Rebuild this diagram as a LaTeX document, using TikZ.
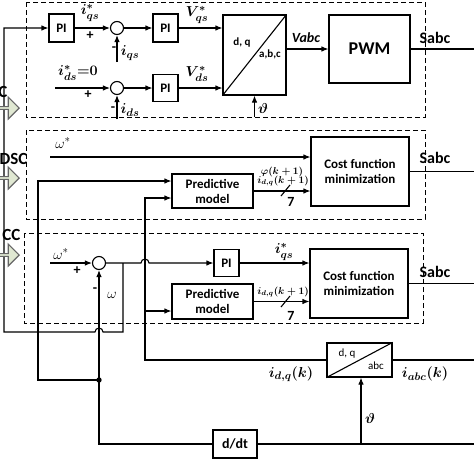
\documentclass[tikz,border=0pt]{standalone}
\usepackage{amsmath}
\usepackage{fontspec}
\setmainfont{Carlito}
\usetikzlibrary{arrows,arrows.meta,shapes,positioning,calc}
\definecolor{modefill}{RGB}{224,232,210}

\begin{document}
\begin{tikzpicture}[x=1pt,y=-1pt,>={Latex[length=7pt,width=5.5pt]},line width=1.1pt,
		blk/.style={draw,align=center,inner sep=0pt,font=\bfseries\fontsize{13}{15}\selectfont},
		sumnode/.style={draw,circle,minimum size=13pt,inner sep=0pt},
		zone/.style={draw,line width=0.9pt,dash pattern=on 5pt off 3pt},
		lbl/.style={inner sep=0pt,font=\fontsize{15}{15}\selectfont},
		smalllbl/.style={inner sep=0pt,font=\fontsize{10}{10}\selectfont},
		signlbl/.style={inner sep=0pt,font=\bfseries\fontsize{14}{14}\selectfont},
		outlbl/.style={inner sep=0pt,font=\bfseries\fontsize{16}{16}\selectfont},
		modearrow/.style={single arrow,draw=black!60,fill=modefill,line width=1.1pt,
			minimum width=22pt,minimum height=34pt,single arrow head extend=4pt,inner sep=0pt,anchor=tip},
		modelbl/.style={inner sep=0pt,anchor=east,font=\bfseries\fontsize{17}{17}\selectfont}]
	\useasboundingbox (0,0) rectangle (474,474);
	\clip (0,0) rectangle (474,474);
	%% zones
	\draw[zone] (26,2) rectangle (425,117);
	\draw[zone] (26,130) rectangle (425,219);
	\draw[zone] (24,233) rectangle (423,323);
	%% FOC
	\node[blk,minimum width=25pt,minimum height=28pt] (pi1) at (61.5,28) {PI};
	\node[sumnode] (sum1) at (117,28) {};
	\node[blk,minimum width=25pt,minimum height=28pt] (pi2) at (165.5,28) {PI};
	\node[sumnode] (sum2) at (117,88) {};
	\node[blk,minimum width=25pt,minimum height=27pt] (pi3) at (165.5,88) {PI};
	\node[blk,minimum width=63pt,minimum height=80pt] (dq1) at (254.5,55) {};
	\node[blk,minimum width=81pt,minimum height=68pt,font=\bfseries\fontsize{18}{18}\selectfont] (pwm) at (369.5,49) {PWM};
	\coordinate (iqs) at (117,62);
	\coordinate (ids) at (117,119);
	\coordinate (ids0) at (55,88);
	\coordinate (th1) at (254.5,117);
	\coordinate (s1) at (474,49);
	\draw (dq1.south west) -- (dq1.north east);
	\node[font=\bfseries\fontsize{11}{11}\selectfont] at (242,43) {d, q};
	\node[font=\bfseries\fontsize{11}{11}\selectfont] at (270,54) {a,b,c};
	\draw[->] (pi1) -- (sum1);
	\draw[->] (sum1) -- (pi2);
	\draw[->] (pi2.east) -- (pi2.east -| dq1.west);
	\draw[->] (ids0) -- (sum2);
	\draw[->] (sum2) -- (pi3);
	\draw[->] (pi3.east) -- (pi3.east -| dq1.west);
	\draw[->] (iqs) -- (sum1);
	\draw[->] (ids) -- (sum2);
	\draw[->] (th1) -- (dq1.south -| th1);
	\draw[->] (pwm.west -| dq1.east) -- (pwm.west);
	\draw (pwm.east) -- (s1);
	\node[lbl] at (90,13) {$\boldsymbol{i^*_{qs}}$};
	\node[signlbl] at (90,36) {+};
	\node[signlbl] at (114,49) {-};
	\node[lbl] at (130,53) {$\boldsymbol{i_{qs}}$};
	\node[lbl] at (197,15) {$\boldsymbol{V^*_{qs}}$};
	\node[lbl] at (78,73) {$\boldsymbol{i^*_{ds}{=}0}$};
	\node[signlbl] at (88,95) {+};
	\node[signlbl] at (113,109) {-};
	\node[lbl] at (130,110) {$\boldsymbol{i_{ds}}$};
	\node[lbl] at (197,74) {$\boldsymbol{V^*_{ds}}$};
	\node[lbl] at (263,108) {$\boldsymbol{\vartheta}$};
	\node[lbl,font=\bfseries\itshape\fontsize{14}{14}\selectfont] at (306,38) {Vabc};
	\node[outlbl] at (435,38) {Sabc};
	%% DSC
	\node[blk,minimum width=98pt,minimum height=69pt] (cost1) at (360,171.5) {Cost function\\minimization};
	\node[blk,minimum width=81pt,minimum height=34pt] (pred1) at (212.5,191) {Predictive\\model};
	\coordinate (w1) at (50,157);
	\coordinate (s2) at (474,171.5);
	\draw[->] (w1) -- (w1 -| cost1.west);
	\draw[->] (pred1.east) -- (pred1.east -| cost1.west);
	\draw (281,196) -- (290,185);
	\draw (cost1.east) -- (s2);
	\node[lbl] at (63,143) {$\omega^*$};
	\node[smalllbl] at (282,172) {$\boldsymbol{\varphi(k+1)}$};
	\node[smalllbl] at (283,181) {$\boldsymbol{i_{d,q}(k+1)}$};
	\node[lbl,font=\bfseries\fontsize{14}{14}\selectfont] at (291,202) {7};
	\node[outlbl] at (435,158) {Sabc};
	%% CC
	\node[sumnode] (sum3) at (99,263) {};
	\node[blk,minimum width=25pt,minimum height=27pt] (pi4) at (226.5,263) {PI};
	\node[blk,minimum width=98pt,minimum height=69pt] (cost2) at (359,283.5) {Cost function\\minimization};
	\node[blk,minimum width=81pt,minimum height=35pt] (pred2) at (212.5,301.5) {Predictive\\model};
	\coordinate (w2) at (50,263);
	\coordinate (s3) at (474,283.5);
	\draw[->] (w2) -- (sum3);
	\draw[->] (sum3.east) -- (141,263) arc[start angle=180,end angle=0,radius=4pt] -- (pi4.west);
	\draw[->] (pi4.east) -- (pi4.east -| cost2.west);
	\draw[->] (pred2.east) -- (pred2.east -| cost2.west);
	\draw (281,307) -- (290,296);
	\draw (cost2.east) -- (s3);
	\node[lbl] at (61,254) {$\omega^*$};
	\node[signlbl] at (77,271) {+};
	\node[signlbl] at (95,290) {-};
	\node[lbl] at (112,295) {$\omega$};
	\node[lbl] at (284,252) {$\boldsymbol{i^*_{qs}}$};
	\node[smalllbl] at (283,292) {$\boldsymbol{i_{d,q}(k+1)}$};
	\node[lbl,font=\bfseries\fontsize{14}{14}\selectfont] at (291,316) {7};
	\node[outlbl] at (435,272) {Sabc};
	%% feedback
	\node[draw,minimum width=65pt,minimum height=34pt,inner sep=0pt] (dq2) at (359.5,360) {};
	\node[blk,minimum width=44pt,minimum height=28pt,font=\bfseries\fontsize{14}{14}\selectfont] (ddt) at (235,444) {d/dt};
	\coordinate (th2) at (474,444);
	\coordinate (tap) at (361,444);
	\coordinate (dot) at (99,380);
	\coordinate (s4) at (474,360);
	\draw (dq2.south west) -- (dq2.north east);
	\node[font=\fontsize{11}{11}\selectfont] at (347,354) {d, q};
	\node[font=\fontsize{11}{11}\selectfont] at (376,366) {abc};
	\draw (th2) -- (ddt.east);
	\draw[->] (tap) -- (dq2.south -| tap);
	\draw (dq2.east) -- (s4);
	\draw (ddt.west) -- (99,444) -- (dot);
	\draw[->] (dot) -- (sum3.south);
	\fill (dot) circle (2.7pt);
	\draw[->] (dot) -- (38,380) -- (38,181) -- (38,181 -| pred1.west);
	\draw[->] (dq2.west) -- (145,360) -- (145,198) -- (145,198 -| pred1.west);
	\draw[->] (145,311) -- (145,311 -| pred2.west);
	\draw[->] (123,263) -- (123,332) -- (103,332) arc[start angle=0,end angle=180,radius=4pt] -- (4,332) -- (4,28) -- (pi1.west);
	\node[lbl] at (291,374) {$\boldsymbol{i_{d,q}(k)}$};
	\node[lbl] at (425,374) {$\boldsymbol{i_{abc}(k)}$};
	\node[lbl] at (370,418) {$\boldsymbol{\vartheta}$};
	%% modes
	\node[modearrow] at (20,108) {};
	\node[modearrow] at (20,178) {};
	\node[modearrow] at (20,255) {};
	\node[modelbl] at (8,92) {FOC};
	\node[modelbl] at (28,159) {DSC};
	\node[modelbl] at (21,235) {CC};
\end{tikzpicture}
\end{document}
